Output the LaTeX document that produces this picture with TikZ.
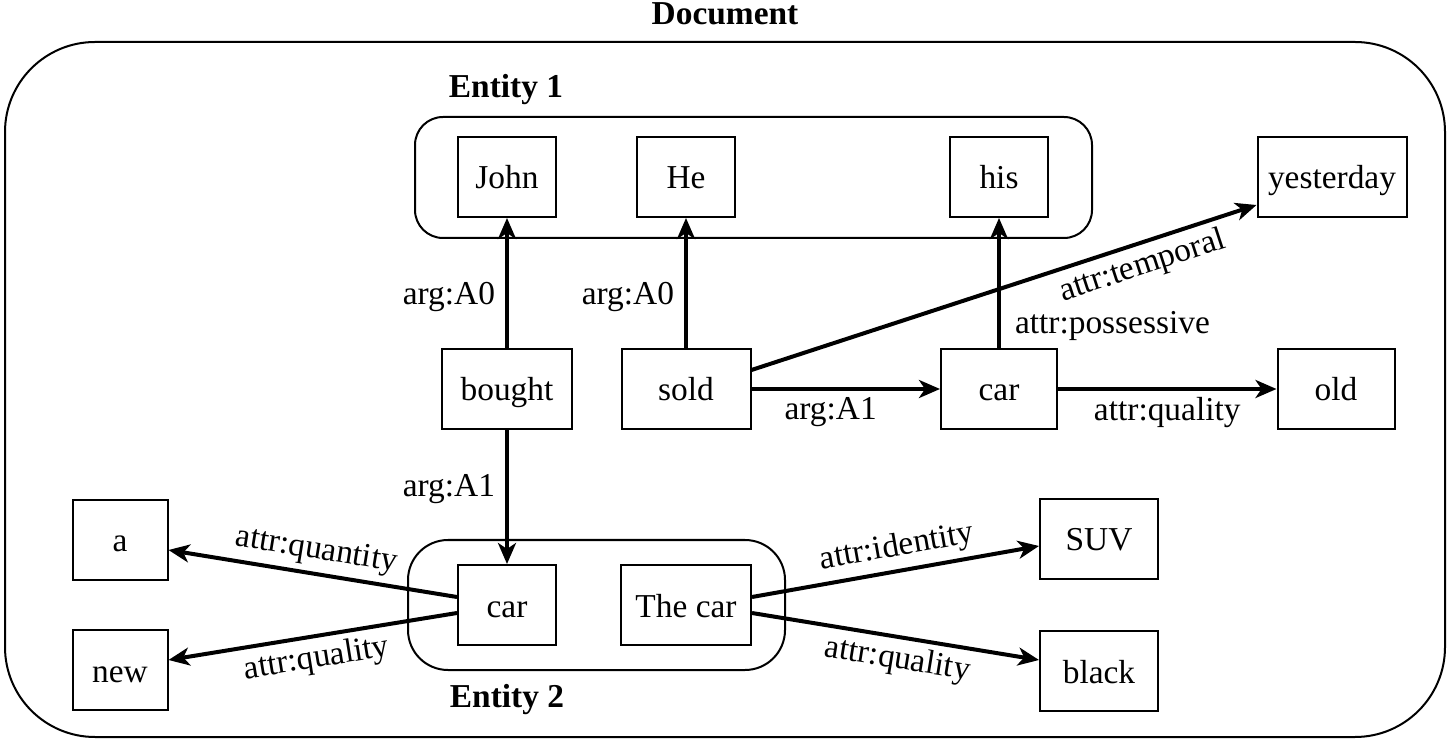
\documentclass[tikz,border=0pt]{standalone}
\usepackage{fontspec}
\setmainfont{Liberation Serif}
\usetikzlibrary{arrows.meta, positioning}

\begin{document}
\begin{tikzpicture}[
    x=0.5pt, y=-0.5pt,
    font=\fontsize{16.7}{20}\selectfont,
    box/.style={rectangle, draw, line width=1pt, minimum width=49pt, minimum height=40pt, inner sep=2pt, text height=14pt, text depth=2pt, align=center},
    group/.style={rectangle, draw, line width=1pt, rounded corners=14pt, inner sep=0pt},
    arrow/.style={-{Stealth[length=10.5pt, width=9pt, inset=3pt]}, line width=2pt},
    lbl/.style={inner sep=3pt},
    title/.style={font=\fontsize{16.7}{20}\selectfont\bfseries}
]
\useasboundingbox (0,0) rectangle (1450,742);

% Containers
\node[group, rounded corners=45pt, minimum width=720pt, minimum height=347.5pt] (doc) at (725,389.5) {};
\node[group, minimum width=338.5pt, minimum height=60.5pt] (ent1) at (753.5,177.5) {};
\node[group, rounded corners=20pt, minimum width=188.5pt, minimum height=65pt] (ent2) at (596.5,605) {};

% Titles
\node[title] (doctitle) at (725,14) {Document};
\node[title] (ent1title) at (506,90) {Entity 1};
\node[title] (ent2title) at (507,700) {Entity 2};

% Entity 1
\node[box] (john) at (507,177) {John};
\node[box] (he) at (686,177) {He};
\node[box] (his) at (999,177) {his};
\node[box, minimum width=74.5pt] (yest) at (1332,177) {yesterday};

% Predicates
\node[box, minimum width=65pt] (bought) at (507,389) {bought};
\node[box, minimum width=64.5pt] (sold) at (686,389) {sold};
\node[box, minimum width=58pt] (cart) at (999,389) {car};
\node[box, minimum width=58.5pt] (old) at (1336,389) {old};

% Entity 2
\node[box, minimum width=47.5pt] (a) at (120,540) {a};
\node[box, minimum width=47.5pt] (new) at (120,670) {new};
\node[box] (carb) at (507,605) {car};
\node[box, minimum width=65pt] (thecar) at (686,605) {The car};
\node[box, minimum width=59pt] (suv) at (1099,539) {SUV};
\node[box, minimum width=59pt] (black) at (1099,671) {black};

% Arrows
\draw[arrow] (bought) -- (john) node[lbl, pos=0.39, left=2pt] {arg:A0};
\draw[arrow] (sold) -- (he) node[lbl, pos=0.39, left=2pt] {arg:A0};
\draw[arrow] (cart) -- (his) node[lbl, pos=0.17, right=4pt] {attr:possessive};
\draw[arrow] ([yshift=9.5pt]sold.east) -- ([yshift=-14pt]yest.west) node[lbl, pos=0.76, sloped, below] {attr:temporal};
\draw[arrow] (sold) -- (cart) node[lbl, pos=0.42, below] {arg:A1};
\draw[arrow] (cart) -- (old) node[lbl, pos=0.5, below] {attr:quality};
\draw[arrow] (bought) -- (carb) node[lbl, pos=0.44, left=2pt] {arg:A1};
\draw[arrow] ([yshift=4pt]carb.west) -- ([yshift=-5pt]a.east) node[lbl, pos=0.5, sloped, above] {attr:quantity};
\draw[arrow] ([yshift=-4pt]carb.west) -- ([yshift=5pt]new.east) node[lbl, pos=0.5, sloped, below] {attr:quality};
\draw[arrow] ([yshift=4pt]thecar.east) -- ([yshift=-3.5pt]suv.west) node[lbl, pos=0.52, sloped, above] {attr:identity};
\draw[arrow] ([yshift=-4pt]thecar.east) -- ([yshift=5.5pt]black.west) node[lbl, pos=0.52, sloped, below] {attr:quality};

\end{tikzpicture}
\end{document}
